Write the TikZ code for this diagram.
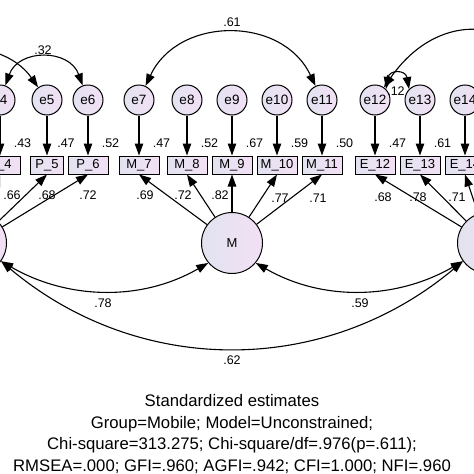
\documentclass[tikz,border=0pt]{standalone}
\usepackage{fontspec}
\setmainfont{Liberation Sans}
\usetikzlibrary{arrows.meta, positioning}
\definecolor{amosgray}{RGB}{226,227,240}
\definecolor{amospink}{RGB}{242,224,244}

\begin{document}
\begin{tikzpicture}[x=1pt, y=1pt,
		errvar/.style={circle, draw, line width=1pt, left color=amosgray, right color=amospink,
			minimum size=30pt, inner sep=0pt, font=\fontsize{13.5}{15}\selectfont},
		obsvar/.style={rectangle, draw, line width=1pt, left color=amosgray, right color=amospink,
			minimum width=40pt, minimum height=18pt, inner sep=0pt, font=\fontsize{13}{15}\selectfont},
		latvar/.style={circle, draw, line width=1pt, left color=amosgray, right color=amospink,
			minimum size=61pt, inner sep=0pt, font=\fontsize{13}{15}\selectfont},
		arrow/.style={-{Triangle[length=12pt, width=8.5pt]}, line width=1.1pt},
		both/.style={{Triangle[length=12pt, width=8.5pt]}-{Triangle[length=12pt, width=8.5pt]}, line width=1.1pt},
		coef/.style={font=\fontsize{12.5}{14}\selectfont, inner sep=1pt}
	]
		\useasboundingbox (0,0) rectangle (474,-474);
		\clip (0,0) rectangle (474,-474);
		% error terms
		\foreach \n/\x in {4/0,5/47,6/88,7/139,8/187,9/232,10/277,11/322,12/375,13/420,14/465}
			\node[errvar] (e\n) at (\x,-100) {e\n};
		% observed items
		\foreach \n in {4,6}
			\node[obsvar, below=40pt of e\n] (x\n) {P\_\n};
		\node[obsvar, minimum width=33pt, below=40pt of e5] (x5) {P\_5};
		\foreach \n in {7,...,11}
			\node[obsvar, below=40pt of e\n] (x\n) {M\_\n};
		\foreach \n in {12,13,14}
			\node[obsvar, below=40pt of e\n] (x\n) {E\_\n};
		% latent factors
		\node[latvar] (P) at (-24,-243) {P};
		\node[latvar] (M) at (232,-243) {M};
		\node[latvar] (E) at (488,-243) {E};
		\coordinate (e2t) at (-75,-86);
		\coordinate (e16t) at (560,-86);

		\foreach \n in {4,...,14}
			\draw[arrow] (e\n) -- (x\n);
		\foreach \n in {4,5,6}
			\draw[arrow] (P) -- (x\n.south);
		\foreach \n in {7,...,11}
			\draw[arrow] (M) -- (x\n.south);
		\foreach \n in {12,13,14}
			\draw[arrow] (E) -- (x\n.south);

		% squared multiple correlations
		\foreach \n/\v in {4/.43,5/.47,6/.52,7/.47,8/.52,9/.67,10/.59,11/.50,12/.47,13/.61}
			\node[coef, above=7pt of x\n.north east, xshift=2pt] (r\n) {\v};
		% loadings
		\foreach \n/\x/\y/\v in {4/12/195/.66,5/47/195/.68,6/88/195/.72,7/145/195/.69,8/183/195/.72,
				9/220/195/.82,10/280/198/.77,11/318/198/.71,12/383/197/.68,13/418/197/.78,14/457/197/.71}
			\node[coef] (l\n) at (\x,-\y) {\v};

		% covariances
		\draw[both] (P.-36) to[out=-30, in=-150, looseness=0.95] (M.-140);
		\draw[both] (M.-40) to[out=-30, in=-150, looseness=0.95] (E.216);
		\draw[both] (P.-36) to[out=-40, in=-140] (E.216);
		\node[coef] (c78) at (103,-303) {.78};
		\node[coef] (c59) at (360,-303) {.59};
		\node[coef] (c62) at (232,-360) {.62};

		\draw[both] (e4.70) to[out=70, in=110, looseness=1.3] (e6.110);
		\draw[both] (e2t) to[out=70, in=125, looseness=1.2] (e5.125);
		\draw[both] (e7.65) to[out=65, in=115, looseness=1.17] (e11.115);
		\draw[both] (e12.55) to[out=55, in=125, looseness=1.3] (e16t);
		\draw[both] (e12.45) to[out=80, in=100, looseness=2.2] (e13.135);
		\node[coef] (c32) at (43,-50) {.32};
		\node[coef] (c61) at (232,-22) {.61};
		\node[coef] (c12) at (396,-91) {.12};

		\node[anchor=north, align=center, inner sep=0pt, font=\fontsize{16.7}{21.7}\selectfont] (fit) at (232,-394)
			{Standardized estimates\\Group=Mobile; Model=Unconstrained;\\
			Chi-square=313.275; Chi-square/df=.976(p=.611);\\
			RMSEA=.000; GFI=.960; AGFI=.942; CFI=1.000; NFI=.960};
	\end{tikzpicture}
\end{document}
